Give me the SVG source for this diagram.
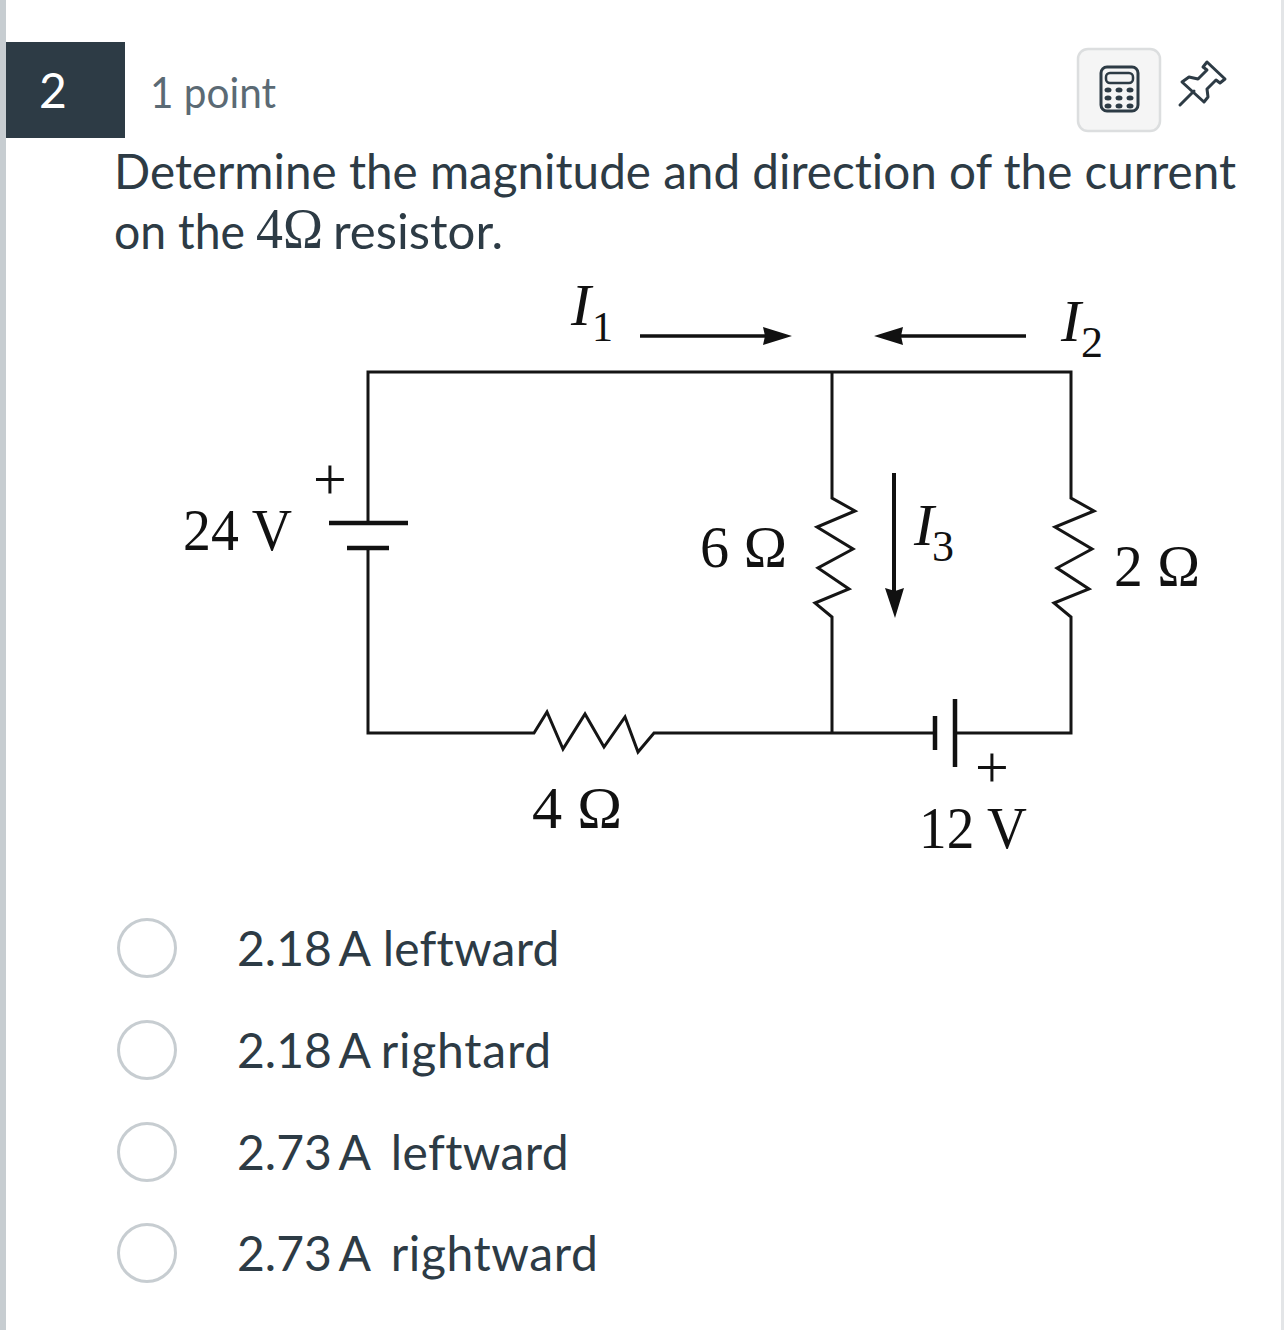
<svg xmlns="http://www.w3.org/2000/svg" width="1284" height="1330" viewBox="0 0 1284 1330">
<style>
.la{font-family:Lato,"Noto Sans",sans-serif;fill:#2d3b45;font-variant-ligatures:none}
.q{font-size:48px}
.o{font-size:48px}
.se{font-family:"Liberation Serif",serif;fill:#111}
.l{font-size:60px}
.w{fill:none;stroke:#151515;stroke-width:3}
.b{fill:none;stroke:#111;stroke-width:4.5}
.r{fill:#fff;stroke:#c7cdd1;stroke-width:3}
.a{fill:#111}
</style>
<rect width="1284" height="1330" fill="#fff"/>
<rect x="0" y="0" width="6" height="1330" fill="#c7cdd1"/>
<rect x="1281" y="0" width="3" height="1330" fill="#e3e5e7"/>
<g id="header">
<rect x="6" y="42" width="119" height="96" fill="#2d3b45"/>
<text x="53" y="108" font-size="48" text-anchor="middle" style="font-family:Lato,sans-serif;fill:#fff">2</text>
<text class="la" x="150" y="108" font-size="42" textLength="126" lengthAdjust="spacingAndGlyphs" style="fill:#5b6a74">1 point</text>
</g>
<g id="calculator">
<rect x="1078" y="49" width="82" height="82" rx="10" fill="#f5f5f5" stroke="#dcdedf" stroke-width="2.5"/>
<rect x="1101" y="67" width="37" height="44" rx="6" fill="none" stroke="#2d3b45" stroke-width="3"/>
<rect x="1106" y="73" width="27" height="10" rx="4" fill="none" stroke="#2d3b45" stroke-width="2.5"/>
<g fill="#2d3b45">
<ellipse cx="1108" cy="90" rx="3.5" ry="2.5"/><ellipse cx="1119" cy="90" rx="3.5" ry="2.5"/><ellipse cx="1130" cy="90" rx="3.5" ry="2.5"/>
<ellipse cx="1108" cy="98" rx="3.5" ry="2.5"/><ellipse cx="1119" cy="98" rx="3.5" ry="2.5"/><ellipse cx="1130" cy="98" rx="3.5" ry="2.5"/>
<ellipse cx="1108" cy="106" rx="3.5" ry="2.5"/><ellipse cx="1119" cy="106" rx="3.5" ry="2.5"/><ellipse cx="1130" cy="106" rx="3.5" ry="2.5"/>
</g>
</g>
<g id="pin" fill="none" stroke="#2d3b45" stroke-width="3" stroke-linejoin="round" stroke-linecap="round">
<path d="M1180 105L1194 91"/>
<path d="M1182 82L1189 77L1198 79L1207 70L1203 67L1207 62L1225 79L1220 83L1216 80L1207 89L1208 97L1204 102Z"/>
</g>
<g id="question">
<text class="la q" x="114" y="189" textLength="1122" lengthAdjust="spacingAndGlyphs">Determine the magnitude and direction of the current</text>
<text class="la q" x="114" y="249" textLength="131" lengthAdjust="spacingAndGlyphs">on the</text>
<text class="la q" x="333" y="249" textLength="170" lengthAdjust="spacingAndGlyphs">resistor.</text>
<text class="se" x="256" y="248" font-size="58" textLength="67" lengthAdjust="spacingAndGlyphs" style="fill:#2d3b45">4Ω</text>
</g>
<g id="connectors">
<path class="w" d="M368 523V372H1071V498L1094 511L1055 527L1092 549L1057 568L1089 589L1054 603L1071 617V733H957M832 372V498L855 511L817 527L853 549L818 568L849 589L815 603L832 617V733M368 548V733H534L547 712L563 749L585 714L604 747L625 717L638 752L654 733H935"/>
<path class="b" d="M329 523H408M347 548H389M935 716V750M955 699V767"/>
</g>
<g id="arrows">
<path d="M640 336H770" stroke="#111" stroke-width="3.5"/>
<path class="a" d="M792 336L763 327L765 336L763 345Z"/>
<path d="M1026 336H896" stroke="#111" stroke-width="3.5"/>
<path class="a" d="M874 336L903 327L901 336L903 345Z"/>
<path d="M894 473V595" stroke="#111" stroke-width="4"/>
<path class="a" d="M895 618L885 588L895 591L904 588Z"/>
</g>
<g id="labels">
<text class="se" x="571" y="325" font-size="60" font-style="italic">I</text><text class="se" x="592" y="341" font-size="42">1</text>
<text class="se" x="1061" y="341" font-size="60" font-style="italic">I</text><text class="se" x="1081" y="357" font-size="44">2</text>
<text class="se" x="914" y="545" font-size="60" font-style="italic">I</text><text class="se" x="932" y="561" font-size="44">3</text>
<text class="se l" x="183" y="550" textLength="109" lengthAdjust="spacingAndGlyphs">24 V</text>
<text class="se" x="313" y="499" font-size="60">+</text>
<text class="se l" x="700" y="567" textLength="87" lengthAdjust="spacingAndGlyphs">6 Ω</text>
<text class="se l" x="1114" y="586" textLength="86" lengthAdjust="spacingAndGlyphs">2 Ω</text>
<text class="se l" x="532" y="828" textLength="90" lengthAdjust="spacingAndGlyphs">4 Ω</text>
<text class="se" x="975" y="787" font-size="60">+</text>
<text class="se l" x="919" y="848" textLength="108" lengthAdjust="spacingAndGlyphs">12 V</text>
</g>
<g id="option1"><circle class="r" cx="147" cy="948" r="28.5"/><text class="la o" x="237" y="966">2.18 <tspan dx="-4">A </tspan><tspan dx="1" letter-spacing="0.2">leftward</tspan></text></g>
<g id="option2"><circle class="r" cx="147" cy="1050" r="28.5"/><text class="la o" x="237" y="1068">2.18 <tspan dx="-4">A </tspan><tspan dx="-1" letter-spacing="0.8">rightard</tspan></text></g>
<g id="option3"><circle class="r" cx="147" cy="1152" r="28.5"/><text class="la o" x="237" y="1170">2.73 <tspan dx="-4">A </tspan><tspan dx="9" letter-spacing="0.4">leftward</tspan></text></g>
<g id="option4"><circle class="r" cx="147" cy="1253" r="28.5"/><text class="la o" x="237" y="1271">2.73 <tspan dx="-4">A </tspan><tspan dx="9" letter-spacing="0.6">rightward</tspan></text></g>
</svg>
